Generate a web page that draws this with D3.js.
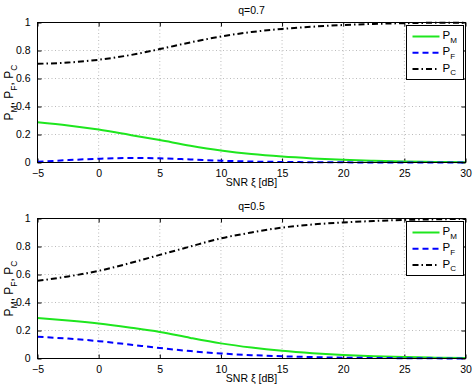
<!DOCTYPE html>
<html lang="en">
<head>
    <meta charset="UTF-8">
    <title>P_M, P_F, P_C vs SNR</title>
    <script src="https://cdnjs.cloudflare.com/ajax/libs/d3/7.8.5/d3.min.js"></script>
    <style>
        body { margin: 0; background: #fff; }
        svg { display: block; font-family: "Liberation Sans", Arial, sans-serif; }
    </style>
</head>
<body>
<svg width="474" height="386"></svg>
<script>
    // SNR axis (dB)
    const snr = [-5, -2.5, 0, 2.5, 5, 7.5, 10, 12.5, 15, 17.5, 20, 22.5, 25, 27.5, 30];

    // q = 0.7
    const pm07 = [0.288, 0.265, 0.235, 0.198, 0.16, 0.12, 0.086, 0.06, 0.042, 0.029, 0.019, 0.012, 0.007, 0.004, 0.002];
    const pf07 = [0.005, 0.017, 0.027, 0.032, 0.03, 0.022, 0.013, 0.007, 0.004, 0.002, 0.001, 0.0005, 0.0002, 0.0001, 0];
    const pc07 = [0.705, 0.714, 0.734, 0.766, 0.81, 0.858, 0.9, 0.932, 0.954, 0.97, 0.982, 0.99, 0.995, 0.998, 0.999];

    // q = 0.5
    const pm05 = [0.29, 0.272, 0.25, 0.222, 0.19, 0.147, 0.108, 0.078, 0.055, 0.038, 0.025, 0.016, 0.01, 0.006, 0.004];
    const pf05 = [0.155, 0.142, 0.124, 0.1, 0.075, 0.053, 0.036, 0.024, 0.016, 0.01, 0.006, 0.004, 0.002, 0.001, 0.0005];
    const pc05 = [0.555, 0.586, 0.626, 0.68, 0.74, 0.8, 0.858, 0.9, 0.935, 0.957, 0.972, 0.982, 0.99, 0.994, 0.997];

    const xTicks = [-5, 0, 5, 10, 15, 20, 25, 30];
    const yTicks = [0, 0.2, 0.4, 0.6, 0.8, 1];
    const yTickLabels = ["0", "0.2", "0.4", "0.6", "0.8", "1"];

    const series = [
        { key: "M", color: "#1ee61e", dash: null },
        { key: "F", color: "#0000ff", dash: "6,4" },
        { key: "C", color: "#000000", dash: "6,3,1.5,3" }
    ];

    const panels = [
        { title: "q=0.7", top: 22.5, values: [pm07, pf07, pc07] },
        { title: "q=0.5", top: 218.5, values: [pm05, pf05, pc05] }
    ];

    const svg = d3.select("svg");
    const left = 37.5, right = 465.5, h = 140;
    const x = d3.scaleLinear().domain([-5, 30]).range([left, right]);

    panels.forEach(p => {
        const y = d3.scaleLinear().domain([0, 1]).range([p.top + h, p.top]);
        const g = svg.append("g");

        // grid
        g.append("g").selectAll("line").data(xTicks.slice(1, -1)).enter().append("line")
            .attr("x1", d => x(d)).attr("x2", d => x(d))
            .attr("y1", p.top).attr("y2", p.top + h)
            .attr("stroke", "#aaa").attr("stroke-width", 0.8).attr("stroke-dasharray", "1,2.5");
        g.append("g").selectAll("line").data(yTicks.slice(1, -1)).enter().append("line")
            .attr("x1", left).attr("x2", right)
            .attr("y1", d => y(d)).attr("y2", d => y(d))
            .attr("stroke", "#aaa").attr("stroke-width", 0.8).attr("stroke-dasharray", "1,2.5");

        // axes (ticks inside, box on)
        const axB = d3.axisBottom(x).tickValues(xTicks).tickSize(-4).tickPadding(7).tickFormat(d3.format("d"));
        const axL = d3.axisLeft(y).tickValues(yTicks).tickSize(-4).tickPadding(7).tickFormat((d, i) => yTickLabels[i]);
        const axT = d3.axisTop(x).tickValues(xTicks).tickSize(-4).tickFormat("");
        const axR = d3.axisRight(y).tickValues(yTicks).tickSize(-4).tickFormat("");
        g.append("g").attr("transform", `translate(0,${p.top + h})`).call(axB);
        g.append("g").attr("transform", `translate(${left},0)`).call(axL);
        g.append("g").attr("transform", `translate(0,${p.top})`).call(axT);
        g.append("g").attr("transform", `translate(${right},0)`).call(axR);
        g.selectAll(".domain").remove();
        g.selectAll(".tick text").attr("font-size", 10.5).attr("fill", "#000")
            .attr("font-family", "Liberation Sans, Arial, sans-serif");
        g.selectAll(".tick line").attr("stroke", "#000");

        // lines
        const line = d3.line().curve(d3.curveMonotoneX);
        series.forEach((s, i) => {
            g.append("path")
                .attr("d", line(snr.map((v, j) => [x(v), y(p.values[i][j])])))
                .attr("fill", "none")
                .attr("stroke", s.color)
                .attr("stroke-width", 2)
                .attr("stroke-dasharray", s.dash);
        });

        g.append("rect")
            .attr("x", left).attr("y", p.top).attr("width", right - left).attr("height", h)
            .attr("fill", "none").attr("stroke", "#000").attr("stroke-width", 1);

        // title
        g.append("text").attr("x", (left + right) / 2).attr("y", p.top - 9)
            .attr("text-anchor", "middle").attr("font-size", 10.5).text(p.title);

        // x label
        g.append("text").attr("x", (left + right) / 2).attr("y", p.top + h + 23)
            .attr("text-anchor", "middle").attr("font-size", 10.5).text("SNR ξ [dB]");

        // y label
        const yl = g.append("text")
            .attr("transform", `translate(13,${p.top + h / 2}) rotate(-90)`)
            .attr("text-anchor", "middle").attr("font-size", 12);
        series.forEach((s, i) => {
            yl.append("tspan").attr("dy", 0).text("P");
            yl.append("tspan").attr("dy", 3.5).attr("font-size", 8.5).text(s.key);
            yl.append("tspan").attr("dy", -3.5).text(i < series.length - 1 ? ", " : "");
        });

        // legend
        const lx = 406.5, ly = p.top + 3;
        const lg = g.append("g");
        lg.append("rect").attr("x", lx).attr("y", ly).attr("width", 57).attr("height", 54)
            .attr("fill", "#fff").attr("stroke", "#000").attr("stroke-width", 1);
        series.forEach((s, i) => {
            const yy = ly + 11 + i * 16.3;
            lg.append("line").attr("x1", lx + 6).attr("x2", lx + 33).attr("y1", yy).attr("y2", yy)
                .attr("stroke", s.color).attr("stroke-width", 2).attr("stroke-dasharray", s.dash);
            const t = lg.append("text").attr("x", lx + 36).attr("y", yy + 2.5).attr("font-size", 11.5);
            t.append("tspan").text("P");
            t.append("tspan").attr("dy", 3.5).attr("font-size", 8).text(s.key);
        });
    });
</script>
</body>
</html>
